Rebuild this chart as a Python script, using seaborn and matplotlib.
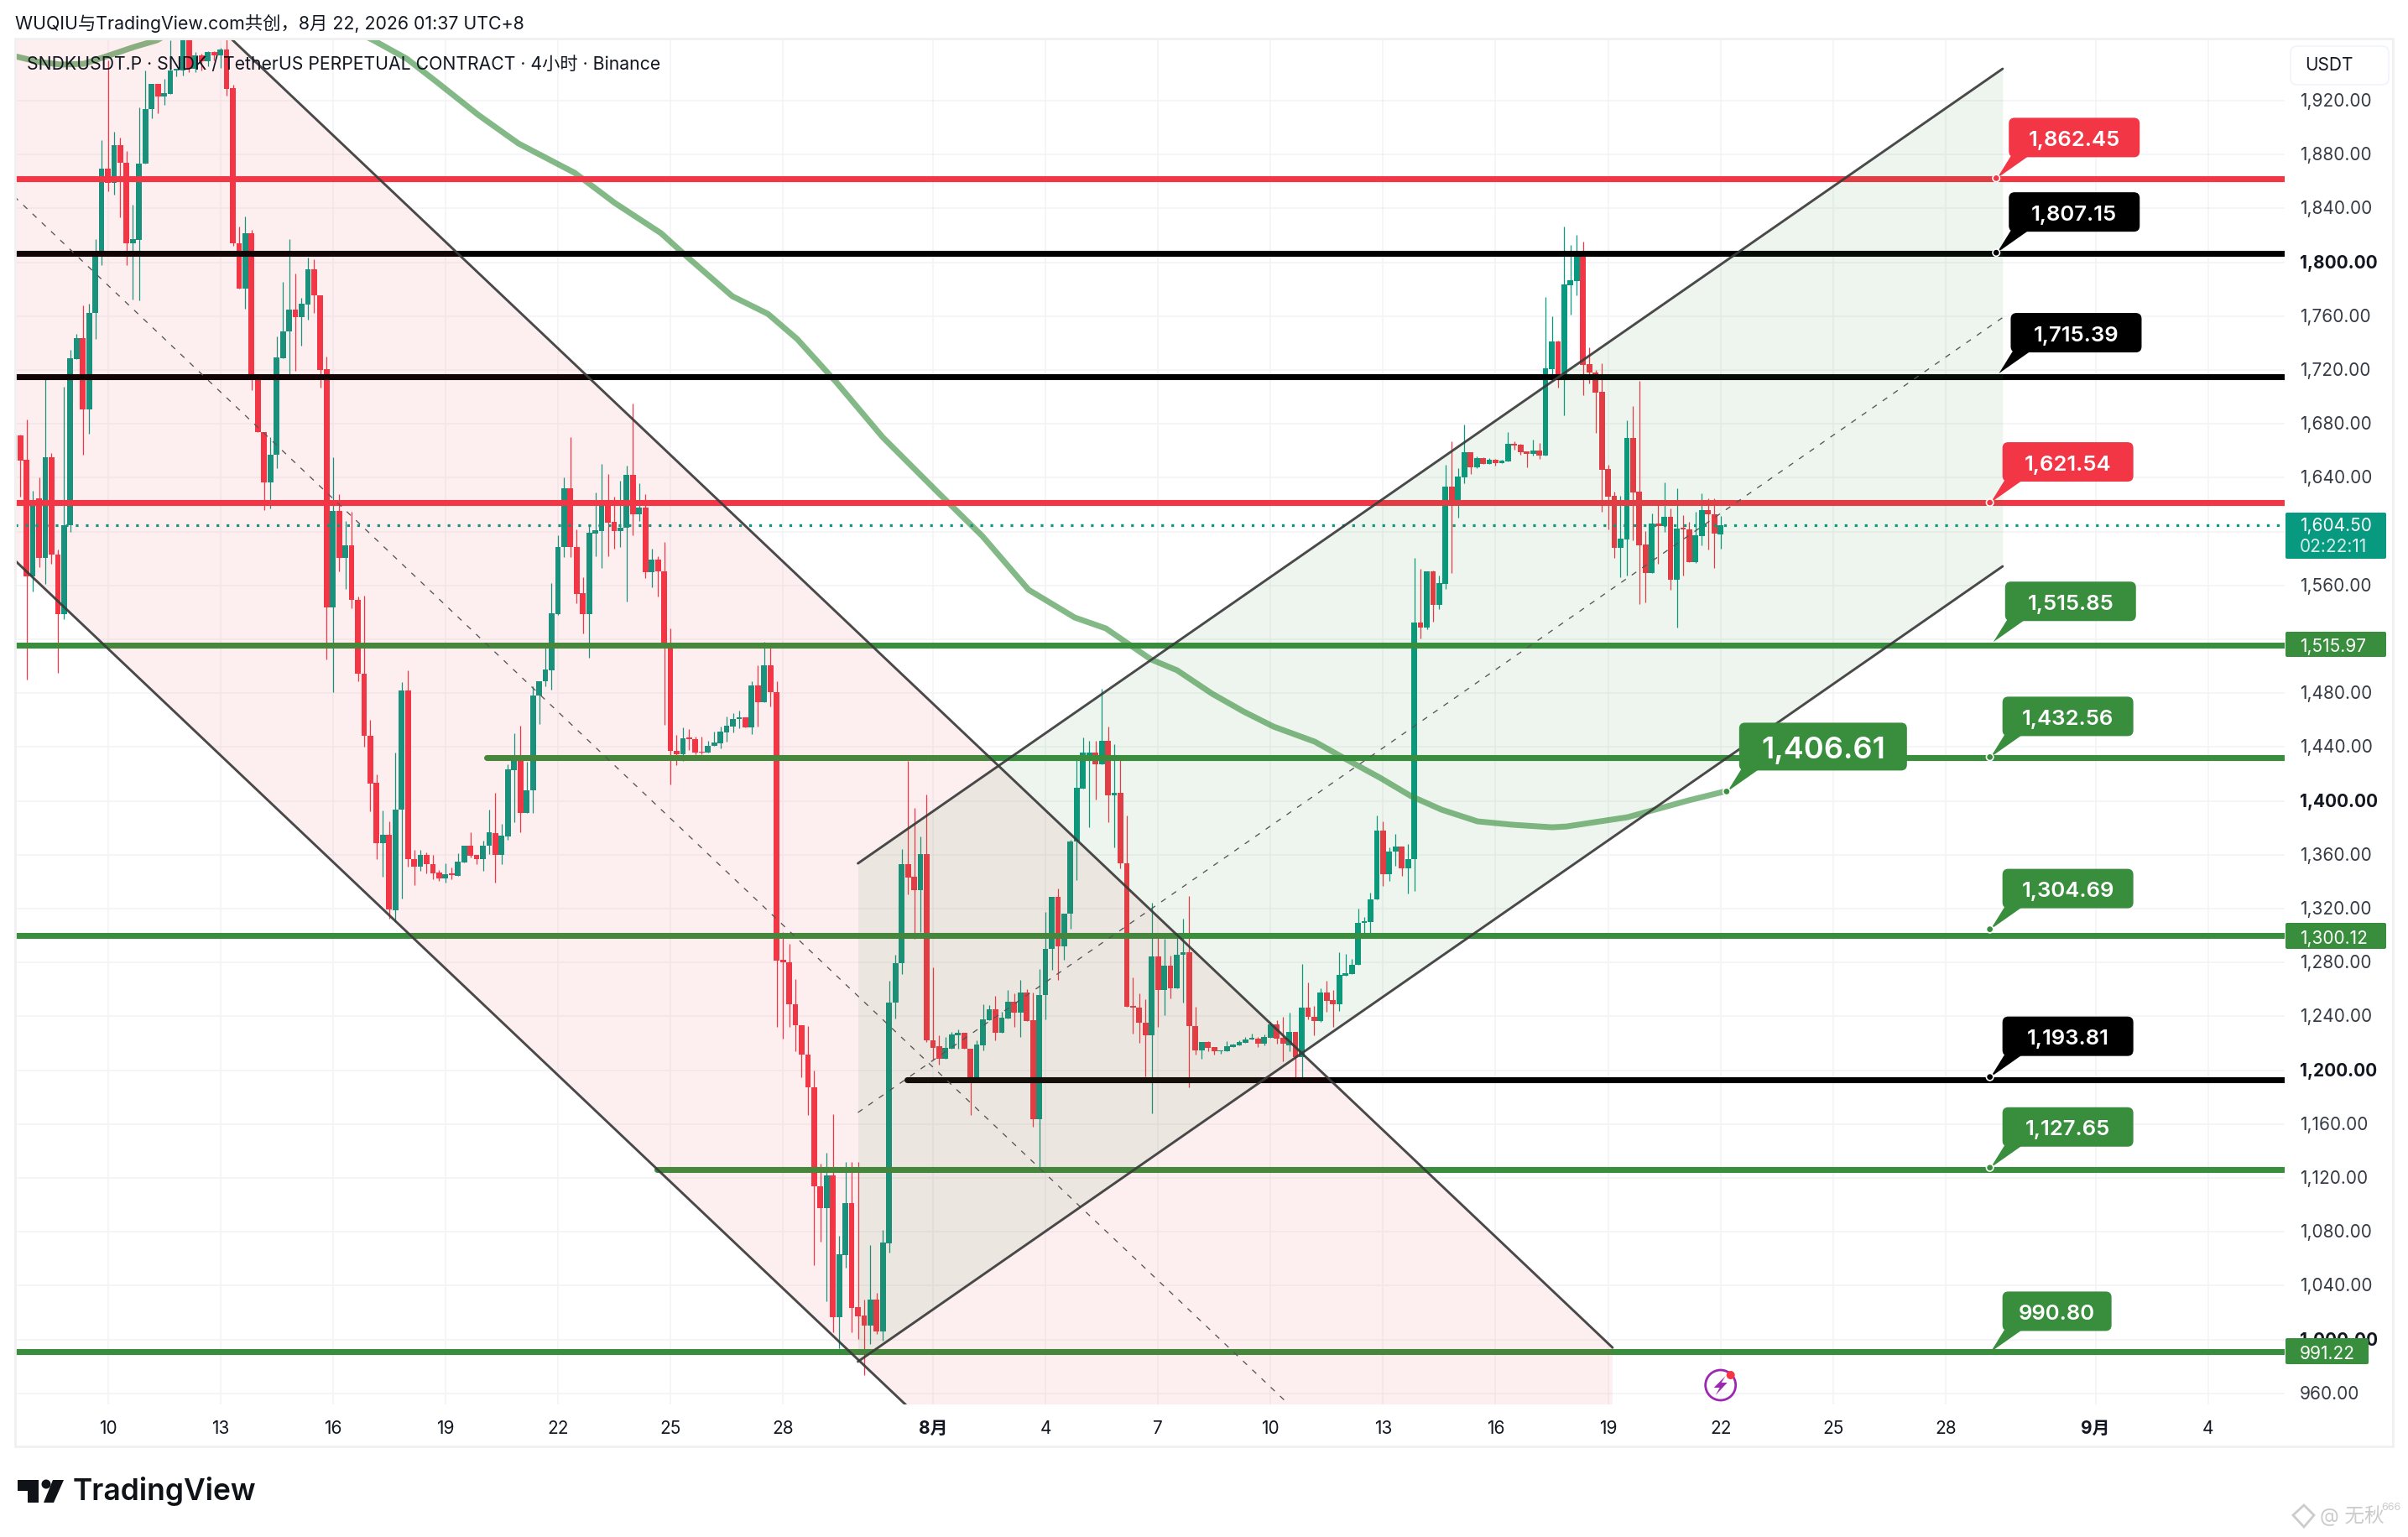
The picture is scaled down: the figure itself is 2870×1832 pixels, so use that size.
import numpy as np
import pandas as pd
import matplotlib
matplotlib.use("Agg")
import matplotlib.pyplot as plt
import matplotlib.dates as mdates
from matplotlib.patches import FancyBboxPatch, Polygon, Circle, Rectangle
from matplotlib.transforms import IdentityTransform, ScaledTranslation
import seaborn as sns

# candles, 4h bars from 2026-07-07 12:00 (UTC+8)
opens = [1653, 1671.5, 1653.5, 1566.9, 1625, 1580.5, 1655.5, 1583, 1539, 1605,
         1728, 1743.6, 1690.7, 1762.4, 1805.7, 1869.5, 1859, 1887, 1874, 1813.9,
         1816.3, 1873, 1914, 1932.6, 1923, 1925, 1942.5, 1942.5, 1985, 1943.7,
         1953.5, 1949, 1956, 1953.9, 1958, 1929.4, 1814.4, 1780.4, 1821.5, 1713.4,
         1674.2, 1636.5, 1657.2, 1729, 1748.4, 1764.6, 1759, 1768.8, 1795, 1775.5,
         1720.8, 1544, 1615.4, 1580.5, 1589.6, 1549.4, 1494.3, 1448.4, 1413.2, 1368.4,
         1375, 1319, 1393.5, 1482, 1356.6, 1351, 1360, 1353, 1346.7, 1342.5,
         1345.7, 1344.5, 1354.4, 1366.9, 1360, 1356.6, 1367, 1376.3, 1360, 1373.8,
         1423, 1429.7, 1391, 1408, 1478, 1488.6, 1497.2, 1539, 1588.6, 1632.1,
         1588.8, 1554.4, 1539, 1598.7, 1600.7, 1621, 1607.3, 1600.7, 1602.6, 1641.9,
         1613, 1618, 1569.6, 1579, 1570.6, 1515.7, 1436.9, 1434.9, 1446.5, 1446,
         1436.6, 1435.6, 1440.6, 1443, 1451, 1455.3, 1460.8, 1462.2, 1454.8, 1485.9,
         1473, 1500.7, 1480.7, 1282, 1280.2, 1249, 1233.5, 1211.8, 1187.4, 1113.8,
         1097.8, 1121.9, 1016.8, 1062.9, 1101.3, 1024, 1017.8, 1010.6, 1029.7, 1006.2,
         1071.6, 1250, 1279.3, 1353.2, 1343.8, 1333.5, 1360.5, 1222.4, 1218, 1208.3,
         1216.2, 1226, 1227.8, 1215.9, 1194.7, 1218.6, 1237.3, 1245.2, 1228, 1238.3,
         1250.8, 1243, 1258, 1237, 1163.6, 1255.6, 1290, 1328.8, 1292, 1316,
         1369.9, 1409.3, 1431, 1435.9, 1427.3, 1444.8, 1404, 1405.9, 1353.4, 1247.5,
         1246.3, 1235.2, 1226, 1284.7, 1259.6, 1277.8, 1261, 1285.9, 1287.6, 1233,
         1214.5, 1221.1, 1217.2, 1213.8, 1214.2, 1217.4, 1218.7, 1220.4, 1222.9, 1223.6,
         1219.9, 1224, 1234, 1224, 1218.7, 1228.5, 1210, 1246.3, 1239.6, 1236.7,
         1258, 1252, 1248.7, 1270.4, 1271.6, 1278, 1309.3, 1310.3, 1326.6, 1378,
         1345.8, 1362.3, 1366.2, 1349.7, 1356.6, 1532.3, 1528.8, 1570.5, 1545.8, 1561.4,
         1633.4, 1622.2, 1640.3, 1659, 1648, 1654.6, 1650.5, 1653.4, 1651, 1652,
         1665.2, 1664.6, 1659.6, 1657.7, 1660.2, 1656.7, 1720.7, 1741.2, 1712.3, 1783,
         1786.3, 1805, 1724.2, 1718, 1703.6, 1646.5, 1626.4, 1587.9, 1594.2, 1669.6,
         1629.7, 1590.4, 1569.5, 1606, 1604, 1611, 1564.5, 1602.3, 1601.9, 1577.4,
         1596.7, 1616, 1612.9, 1598.2]
closes = [1671.5, 1653, 1566.9, 1621, 1580.5, 1655.5, 1583, 1539, 1605, 1729,
          1743.6, 1690.7, 1762.4, 1805.7, 1869.5, 1859, 1887, 1874, 1813.9, 1817.3,
          1873, 1914, 1932.6, 1923, 1925.7, 1942.5, 1943.9, 1985, 1943.7, 1953.5,
          1949, 1956, 1953.9, 1958, 1929, 1814.4, 1780.4, 1821.5, 1713.4, 1674.2,
          1636.5, 1657.2, 1729.4, 1748.6, 1764.6, 1759, 1769, 1795, 1775.5, 1720,
          1544, 1615.4, 1580.5, 1589.6, 1549, 1494.3, 1448.4, 1413, 1368.4, 1375,
          1319.4, 1393.5, 1482, 1356.6, 1351, 1360, 1352.9, 1346, 1342.5, 1345.7,
          1344.8, 1355, 1366.9, 1359.3, 1356.6, 1367, 1376.8, 1360, 1374.3, 1423.6,
          1429.7, 1391, 1408, 1478.3, 1488.8, 1497.7, 1539.3, 1588.6, 1632.1, 1588.8,
          1553.9, 1539, 1599, 1601, 1621, 1606.8, 1600.7, 1602.6, 1641.9, 1613,
          1618, 1569.6, 1579, 1570.4, 1515.7, 1436.9, 1434.9, 1446.5, 1445.7, 1436,
          1435.6, 1441, 1443.5, 1451.6, 1455.8, 1461, 1462.2, 1454.8, 1485.9, 1473,
          1500.7, 1480.5, 1281.7, 1280.2, 1248.7, 1233.2, 1211.3, 1187.4, 1113.7, 1097.8,
          1121.9, 1016.8, 1063.3, 1101.3, 1023.7, 1017.2, 1010.6, 1029.7, 1006.2, 1072,
          1250.2, 1279.5, 1353.2, 1343.3, 1333.5, 1360.5, 1221.9, 1216.7, 1208.3, 1216.7,
          1226.6, 1227.8, 1215.7, 1193.7, 1219, 1237.7, 1245.2, 1228, 1239, 1250.8,
          1243, 1258, 1236.7, 1163.6, 1255.6, 1289.9, 1328.8, 1292, 1316.5, 1369.9,
          1409.8, 1435.9, 1436, 1427.3, 1444.8, 1404, 1405.9, 1353.4, 1247.2, 1246.3,
          1235.2, 1226, 1284.7, 1259.6, 1277.8, 1261, 1285.9, 1287.6, 1233, 1214.5,
          1221.1, 1216.7, 1213.8, 1214.7, 1218, 1219, 1221.1, 1222.9, 1223.6, 1219.9,
          1224.8, 1234, 1223.6, 1219.4, 1228.5, 1210, 1246.3, 1239.4, 1236.7, 1258,
          1251.7, 1248.7, 1270.9, 1272, 1278.3, 1309.3, 1310.5, 1326.6, 1378, 1345.8,
          1362.3, 1366.2, 1349.7, 1356.6, 1532.3, 1528.6, 1570.5, 1545.8, 1561.8, 1633.4,
          1622.6, 1640.7, 1659, 1648, 1654.6, 1650.5, 1653.4, 1651, 1652.8, 1665.2,
          1664, 1659, 1657.7, 1660.2, 1656.7, 1721.3, 1741.2, 1712.3, 1783.6, 1786.5,
          1805, 1724, 1718, 1703.4, 1645.9, 1626.2, 1587.9, 1594.6, 1669.6, 1629.3,
          1590, 1569.5, 1606, 1604, 1611, 1564.5, 1602.3, 1601.9, 1577.4, 1597.3,
          1616, 1612.7, 1598.8, 1604.5]
highs = [1680, 1672, 1683, 1630, 1640, 1713, 1658.5, 1586.6, 1707.7, 1734.8,
         1746.6, 1768, 1769, 1817, 1890.7, 1949.7, 1897, 1892.7, 1882.6, 1842.7,
         1915.3, 1942.4, 1932.6, 1932.6, 1936, 1964.6, 1944, 1990, 1990, 1956,
         1955, 1957, 1957, 1959, 1965.3, 1932, 1826.7, 1834, 1824, 1713.4,
         1674.2, 1670, 1744.7, 1785.5, 1817.3, 1791.7, 1773.7, 1803.3, 1802.5, 1775.5,
         1729.9, 1655, 1627.7, 1608, 1615, 1552, 1552.4, 1460, 1419.6, 1393,
         1385, 1435.6, 1488, 1496.7, 1363.5, 1363.5, 1361.8, 1360, 1348.7, 1353.6,
         1350.7, 1361, 1366.9, 1376.5, 1360, 1370.4, 1393.5, 1405.8, 1382.7, 1427,
         1450.4, 1455.8, 1429, 1484.9, 1488.8, 1514, 1561.7, 1597, 1640, 1670,
         1601.9, 1566, 1605.6, 1629, 1650, 1643, 1626, 1638, 1649, 1695,
         1636, 1628, 1587, 1581.4, 1592, 1528, 1449, 1454.6, 1453.4, 1448,
         1448, 1444.8, 1451.6, 1455.3, 1462.7, 1465.2, 1467, 1462.2, 1488.6, 1500.7,
         1518, 1515.2, 1488.6, 1302.5, 1293.8, 1267.9, 1233.5, 1233, 1200, 1130.4,
         1138.6, 1167.4, 1076.8, 1132, 1132, 1132, 1029.7, 1070.2, 1034.5, 1081.4,
         1266.2, 1285.9, 1364, 1429.8, 1394.8, 1373.9, 1404.6, 1276.6, 1226, 1224.8,
         1228.5, 1230.5, 1227.8, 1216, 1222, 1248.7, 1248.3, 1255, 1243.5, 1259.5,
         1257, 1267, 1260, 1258, 1275, 1317.7, 1328.8, 1335, 1316.5, 1371.4,
         1430.5, 1447.2, 1444.8, 1444.8, 1483, 1455.1, 1442, 1430.5, 1389.4, 1269,
         1256.9, 1253, 1324.6, 1300, 1297.5, 1285, 1300, 1312.8, 1329.5, 1247,
         1221.1, 1221.6, 1217.2, 1214.7, 1221.6, 1219.8, 1222.4, 1224.8, 1227.3, 1224.8,
         1226.5, 1235.9, 1237, 1239.6, 1242.6, 1228.5, 1279, 1265.5, 1248, 1260.6,
         1266.7, 1259.3, 1287.6, 1286.4, 1282.7, 1320, 1313.5, 1332, 1389, 1385,
         1365.2, 1375.6, 1366.2, 1367.7, 1580.5, 1572.4, 1570.5, 1570.9, 1567.6, 1649.6,
         1666.9, 1646.9, 1679.8, 1659, 1655.9, 1655.2, 1654.4, 1653.8, 1653.5, 1673.9,
         1666.9, 1665, 1659.6, 1668.3, 1665.6, 1774, 1759.7, 1741.6, 1826.6, 1812.7,
         1820.4, 1815.2, 1736.9, 1720, 1725, 1649.6, 1629.9, 1626.8, 1682.9, 1693.2,
         1711.9, 1600.4, 1613.7, 1619.5, 1636.6, 1617.4, 1632.2, 1612.2, 1607, 1614.7,
         1628.2, 1624.7, 1624.7, 1611.6]
lows = [1640, 1626, 1490.3, 1555.6, 1573.6, 1561, 1576, 1494.8, 1535, 1600,
        1728, 1657, 1672.7, 1743, 1798, 1852.5, 1850, 1833.6, 1797.6, 1772.5,
        1772, 1873, 1907, 1910.4, 1916.6, 1925, 1938, 1939, 1941, 1941,
        1942.5, 1945.6, 1949.7, 1944.5, 1923.8, 1812, 1780.4, 1765.8, 1704.8, 1674.2,
        1616, 1617, 1647, 1729, 1717, 1719.5, 1738, 1757.7, 1762.6, 1706.7,
        1505, 1480.7, 1570.6, 1557.6, 1542.8, 1488.6, 1440, 1392.5, 1356.6, 1344,
        1312.5, 1310, 1327.8, 1351.4, 1337.6, 1348, 1346, 1341.6, 1340.8, 1339.6,
        1342, 1344.5, 1354.4, 1358, 1353, 1348, 1360.5, 1339.6, 1353, 1370.9,
        1383.9, 1377, 1391, 1390.8, 1457.3, 1485, 1482.9, 1537.9, 1581, 1581,
        1547, 1524.3, 1506.6, 1582, 1573, 1581.7, 1587.6, 1588.8, 1548.2, 1597.5,
        1607.6, 1565.4, 1558.8, 1552, 1456.6, 1412, 1426.5, 1429.5, 1438, 1434.4,
        1434.4, 1435.6, 1440.6, 1438.8, 1444.3, 1451, 1454, 1454.8, 1449.9, 1455.3,
        1473, 1470, 1232, 1223.6, 1232.2, 1214.2, 1194.5, 1166.5, 1055.4, 1072.9,
        1028.6, 1005.4, 993.7, 1053.6, 1005.4, 1000.6, 973.6, 996.9, 1004.4, 999.4,
        1064.8, 1238.4, 1271.6, 1330.7, 1297.5, 1302.4, 1221, 1207.6, 1203.9, 1208.3,
        1216.2, 1216, 1215.7, 1167, 1194.7, 1214.5, 1237.3, 1222.4, 1228, 1238.3,
        1232, 1224.8, 1236.7, 1158, 1128, 1238, 1274.7, 1267.2, 1282, 1304.9,
        1341, 1409.3, 1380.7, 1401, 1427.3, 1384.2, 1365.7, 1350, 1247.2, 1227.3,
        1220.6, 1195.3, 1168.2, 1232, 1240.8, 1253.2, 1261, 1250, 1187.2, 1211.3,
        1208.8, 1213.8, 1211.3, 1212.5, 1214.2, 1217.4, 1218.7, 1220.4, 1222.9, 1217.4,
        1218.5, 1224, 1219.9, 1206.4, 1213.8, 1194.8, 1194, 1238, 1226, 1236,
        1243.3, 1232.2, 1243.8, 1270.4, 1271.6, 1278, 1301, 1301, 1326.6, 1336.9,
        1340.6, 1351.7, 1344.3, 1331.5, 1333, 1520.9, 1527.7, 1533.3, 1542.7, 1557.6,
        1569, 1610.6, 1635.7, 1642.8, 1647, 1650.5, 1650.5, 1649.2, 1651, 1652,
        1661, 1657.3, 1648, 1656.5, 1654.2, 1656.7, 1713, 1707.2, 1686.6, 1761.4,
        1775.3, 1701.6, 1709.9, 1673.5, 1615, 1601.9, 1580.5, 1566.3, 1567.2, 1593.6,
        1546.4, 1547.5, 1569.5, 1576.3, 1599.8, 1556.8, 1528.8, 1567.6, 1577.4, 1576.6,
        1589.8, 1586.9, 1573.2, 1587.3]

# 200 period moving average (day of july, price)
ma_days = [7.53, 8.18, 8.76, 9.36, 10.03, 10.7, 11.31, 12.27, 13.84, 15.62, 17.08, 17.97,
           18.78, 19.88, 20.95, 22.45, 23.52, 24.75, 25.42, 26.65, 27.6, 28.38, 29.43, 30.66,
           32.09, 33.32, 34.55, 35.78, 36.61, 37.82, 38.51, 39.45, 40.28, 41.08, 42.18, 42.98,
           43.92, 44.75, 45.56, 46.52, 47.46, 48.51, 48.89, 50.52, 52.15, 52.6, 53.05, 53.16]
ma_values = [1953, 1948.7, 1946.8, 1947.4, 1953.6, 1959.9, 1964.9, 1980, 1990, 1985, 1964.9, 1951.2,
             1933.7, 1909.4, 1888.2, 1866.4, 1844, 1821.6, 1804.7, 1774.8, 1761.7, 1743, 1710.7, 1670.1,
             1630.3, 1596.6, 1556.8, 1536.2, 1528.1, 1505, 1497, 1479.5, 1466.4, 1455.2, 1444, 1431.5,
             1417.2, 1403.5, 1393.5, 1384.8, 1382.3, 1380.4, 1381, 1387.9, 1400.4, 1403.5, 1406.6, 1407]

# horizontal levels: price, first day, colour
level_prices = [1861.9, 1806.6, 1714.9, 1621.54, 1515.97, 1432.2, 1300.12, 1192.8, 1126, 991.22]
level_starts = [7.5, 7.5, 7.5, 7.5, 7.5, 20.1, 7.5, 31.3, 24.64, 7.5]
level_colors = ["#F23645", "#000000", "#000000", "#F23645", "#388E3C", "#388E3C", "#388E3C", "#000000", "#388E3C", "#388E3C"]

# channels: start day, end day, (start price, end price) for each rail
red_days = [7.5, 50.12]
red_upper = [2118.8, 994]
red_lower = [1579.2, 454]
green_days = [30.0, 60.52]
green_upper = [1353.6, 1943.7]
green_lower = [983.6, 1574.2]

# callouts on the levels: text, anchor day, anchor price, colour, has dot
callout_texts = ["1,862.45", "1,807.15", "1,715.39", "1,621.54", "1,515.85", "1,432.56", "1,304.69", "1,193.81", "1,127.65", "990.80"]
callout_days = [60.35, 60.35, 60.4, 60.18, 60.25, 60.18, 60.18, 60.18, 60.18, 60.18]
callout_prices = [1862.45, 1807.15, 1717.5, 1621.54, 1518, 1432.56, 1304.69, 1195, 1127.65, 990.8]
callout_colors = ["#F23645", "#000000", "#000000", "#F23645", "#388E3C", "#388E3C", "#388E3C", "#000000", "#388E3C", "#388E3C"]
callout_dots = [True, True, False, True, False, True, True, True, True, False]

y_ticks = list(range(960, 1921, 40))
bold_ticks = [1000, 1200, 1400, 1800]
hidden_ticks = [1600]  # sits fully behind the last price tag
x_tick_days = [10, 13, 16, 19, 22, 25, 28, 32, 35, 38, 41, 44, 47, 50, 53, 56, 59, 63, 66]
x_tick_labels = ["10", "13", "16", "19", "22", "25", "28", "8月", "4", "7", "10", "13", "16", "19", "22", "25", "28", "9月", "4"]

UP = "#089981"
DOWN = "#F23645"
W, H = 2870, 1833


def day_num(d):
    return mdates.date2num(pd.Timestamp("2026-07-01")) + np.asarray(d, dtype=float) - 1


def px(x, y):
    # picture coordinates (origin top left) to display coordinates
    return x, H - y


sns.set_theme(style="white")
plt.rcParams["font.family"] = ["Inter", "Noto Sans CJK SC", "DejaVu Sans"]

df = pd.DataFrame({
    "time": pd.date_range("2026-07-07 12:00", periods=len(opens), freq="4h"),
    "open": opens, "high": highs, "low": lows, "close": closes,
})
df["x"] = mdates.date2num(df["time"])
df["color"] = np.where(df["close"] >= df["open"], UP, DOWN)

fig = plt.figure(figsize=(W / 100, H / 100), dpi=100, facecolor="white")
ax = fig.add_axes([18 / W, 1 - 1675 / H, (2723 - 18) / W, (1675 - 48) / H])
ax.set_xlim(day_num(7.528), day_num(68.04))
ax.set_ylim(951.8, 1965.5)
for s in ax.spines.values():
    s.set_visible(False)

ax.set_axisbelow(True)
ax.grid(True, color="#F2F3F5", lw=1.1)
ax.yaxis.tick_right()
ax.set_yticks(y_ticks)
ax.set_yticklabels(["" if v in hidden_ticks else f"{v:,.2f}" for v in y_ticks], fontsize=15, color="#363A45")
ax.set_xticks(day_num(x_tick_days))
ax.set_xticklabels(x_tick_labels, fontsize=15, color="#131722")
for t, lab in zip(ax.get_xticklabels(), x_tick_labels):
    if "月" in lab:
        t.set_fontweight("bold")
ax.tick_params(axis="y", length=0, pad=13)
ax.tick_params(axis="x", length=0, pad=13)
nudge = ScaledTranslation(0, 2 / 100, fig.dpi_scale_trans)
for t, v in zip(ax.get_yticklabels(), y_ticks):
    t.set_transform(t.get_transform() + nudge)
    if v in bold_ticks:
        t.set_fontweight("bold")
        t.set_color("#131722")

# candles
ax.vlines(df["x"], df["low"], df["high"], colors=df["color"], lw=0.9, zorder=2)
ax.bar(df["x"], (df["close"] - df["open"]).abs().clip(lower=1.2), bottom=df[["open", "close"]].min(axis=1),
       width=0.152, color=df["color"], linewidth=0, zorder=2.1)

# moving average
ma = pd.DataFrame({"x": day_num(ma_days), "y": ma_values})
sns.lineplot(data=ma, x="x", y="y", ax=ax, color="#388E3C", alpha=0.62, lw=5, estimator=None, sort=False, zorder=3)
ax.set_xlabel("")
ax.set_ylabel("")

# levels
for price, start, col in zip(level_prices, level_starts, level_colors):
    ax.plot(day_num([start, 68.04]), [price, price], color=col, lw=5.1, solid_capstyle="round", zorder=4)

# last price
ax.plot(day_num([7.53, 68.04]), [closes[-1]] * 2, color=UP, lw=2.3, ls=(0, (1.0, 2.75)), zorder=4.2)

# channels
ax.fill_between(day_num(red_days), red_lower, red_upper, color="#F23645", alpha=0.08, lw=0, zorder=5)
ax.fill_between(day_num(green_days), green_lower, green_upper, color="#388E3C", alpha=0.085, lw=0, zorder=5)
for days, upper, lower in [(red_days, red_upper, red_lower), (green_days, green_upper, green_lower)]:
    x = day_num(days)
    for rail in (upper, lower):
        ax.plot(x, rail, color="#3A3A3A", lw=2.1, alpha=0.92, solid_capstyle="round", zorder=6)
    mid = (np.array(upper) + np.array(lower)) / 2
    ax.plot(x, mid, color="#555555", lw=0.95, ls=(0, (5, 6.5)), zorder=6)

idt = IdentityTransform()


def callout(text, day, price, color, dot=True, w=156, h=47, fs=18.5):
    ax_x, ax_y = ax.transData.transform((day_num(day), price))
    left, bottom = ax_x + 15, ax_y + 25
    tail = Polygon([(left + 4, bottom + 4), (left + 23, bottom + 1), (ax_x + 1, ax_y)], closed=True,
                   facecolor=color, edgecolor="none", transform=idt, clip_on=False, zorder=20)
    ax.add_patch(tail)
    box = FancyBboxPatch((left, bottom), w, h, boxstyle="round,pad=0,rounding_size=7", mutation_scale=1,
                         facecolor=color, edgecolor="none", transform=idt, clip_on=False, zorder=20)
    ax.add_patch(box)
    ax.text(left + w / 2, bottom + h / 2, text, color="white", fontsize=fs, fontweight="semibold", ha="center",
            va="center_baseline", transform=idt, clip_on=False, zorder=21)
    if dot:
        ax.add_patch(Circle((ax_x, ax_y), 4.2, facecolor=color, edgecolor="white", lw=1.2, transform=idt,
                            clip_on=False, zorder=22))


for text, day, price, col, dot in zip(callout_texts, callout_days, callout_prices, callout_colors, callout_dots):
    callout(text, day, price, col, dot, w=130 if text == "990.80" else 156)
callout("1,406.61", ma_days[-1], ma_values[-1], "#388E3C", True, w=200, h=57, fs=26)


def price_tag(top, bottom, color, lines, right=2844):
    x0, y1 = px(2724, top)
    _, y0 = px(2724, bottom)
    ax.add_patch(FancyBboxPatch((x0, y0), right - 2724, y1 - y0, boxstyle="round,pad=0,rounding_size=2",
                                mutation_scale=1, facecolor=color, edgecolor="none", transform=idt,
                                clip_on=False, zorder=20))
    for (s, y, col) in lines:
        tx, ty = px(2741, y)
        ax.text(tx, ty, s, color=col, fontsize=15, va="center_baseline", ha="left", transform=idt,
                clip_on=False, zorder=21)


price_tag(612, 667, UP, [("1,604.50", 625, "white"), ("02:22:11", 650, "#D5EDE8")])
price_tag(754, 784, "#388E3C", [("1,515.97", 769, "white")])
price_tag(1101, 1132, "#388E3C", [("1,300.12", 1117, "white")])
price_tag(1596, 1627, "#388E3C", [("991.22", 1612, "white")], right=2823)

# chrome around the chart
frame = Rectangle(px(18, 1725), 2852 - 18, 1725 - 47, fill=False, edgecolor="#F0F0F1", lw=2, transform=idt)
fig.add_artist(frame)
fig.add_artist(FancyBboxPatch(px(2730, 102), 117, 46, boxstyle="round,pad=0,rounding_size=8", mutation_scale=1,
                              facecolor="white", edgecolor="#F0F3FA", lw=1.2, transform=idt, zorder=20))

fig.text(*px(18, 28), "WUQIU与TradingView.com共创，8月 22, 2026 01:37 UTC+8", fontsize=15.4, color="#131722",
         va="center", ha="left", transform=idt)
fig.text(*px(32, 77), "SNDKUSDT.P · SNDK / TetherUS PERPETUAL CONTRACT · 4小时 · Binance", fontsize=15.3,
         color="#131722", va="center", ha="left", transform=idt, zorder=30)
fig.text(*px(2747, 78), "USDT", fontsize=15, color="#131722", va="center", ha="left", transform=idt, zorder=30)

# tradingview logo
logo = "#0F1216"
fig.add_artist(Polygon([px(21, 1765), px(46, 1765), px(46, 1792), px(33, 1792), px(33, 1778), px(21, 1778)],
                       closed=True, facecolor=logo, edgecolor="none", transform=idt))
fig.add_artist(Circle(px(55, 1770), 5.5, facecolor=logo, edgecolor="none", transform=idt))
fig.add_artist(Polygon([px(63, 1765), px(76, 1765), px(64, 1792), px(52, 1792)], closed=True, facecolor=logo,
                       edgecolor="none", transform=idt))
fig.text(*px(87, 1778), "TradingView", fontsize=25.5, fontweight="semibold", color=logo, va="center", ha="left", transform=idt)

# lightning icon on the time axis
cx, cy = ax.transData.transform((day_num(53), 0))[0], 1652
fig.add_artist(Circle(px(cx, cy), 18, fill=False, edgecolor="#9C27B0", lw=2, transform=idt, zorder=30))
fig.add_artist(Polygon([px(cx + 6, cy - 11), px(cx - 8, cy + 3), px(cx - 1, cy + 3), px(cx - 6, cy + 12),
                        px(cx + 8, cy - 3), px(cx + 1, cy - 3)], closed=True, facecolor="#9C27B0",
                       edgecolor="none", transform=idt, zorder=30))
fig.add_artist(Circle(px(cx + 12, cy - 12), 5, facecolor="#F23645", edgecolor="none", transform=idt, zorder=31))

# watermark
wm = "#CCCCCC"
fig.add_artist(Polygon([px(2746, 1795), px(2758, 1807), px(2746, 1821), px(2733, 1807)], closed=True, fill=False,
                       edgecolor=wm, lw=2, transform=idt))
fig.text(*px(2765, 1807), "@ 无秋", fontsize=17, color=wm, va="center", ha="left", transform=idt)
fig.text(*px(2838, 1797), "666", fontsize=9, color=wm, va="center", ha="left", transform=idt)

fig.savefig("out.png", dpi=100, facecolor="white")
